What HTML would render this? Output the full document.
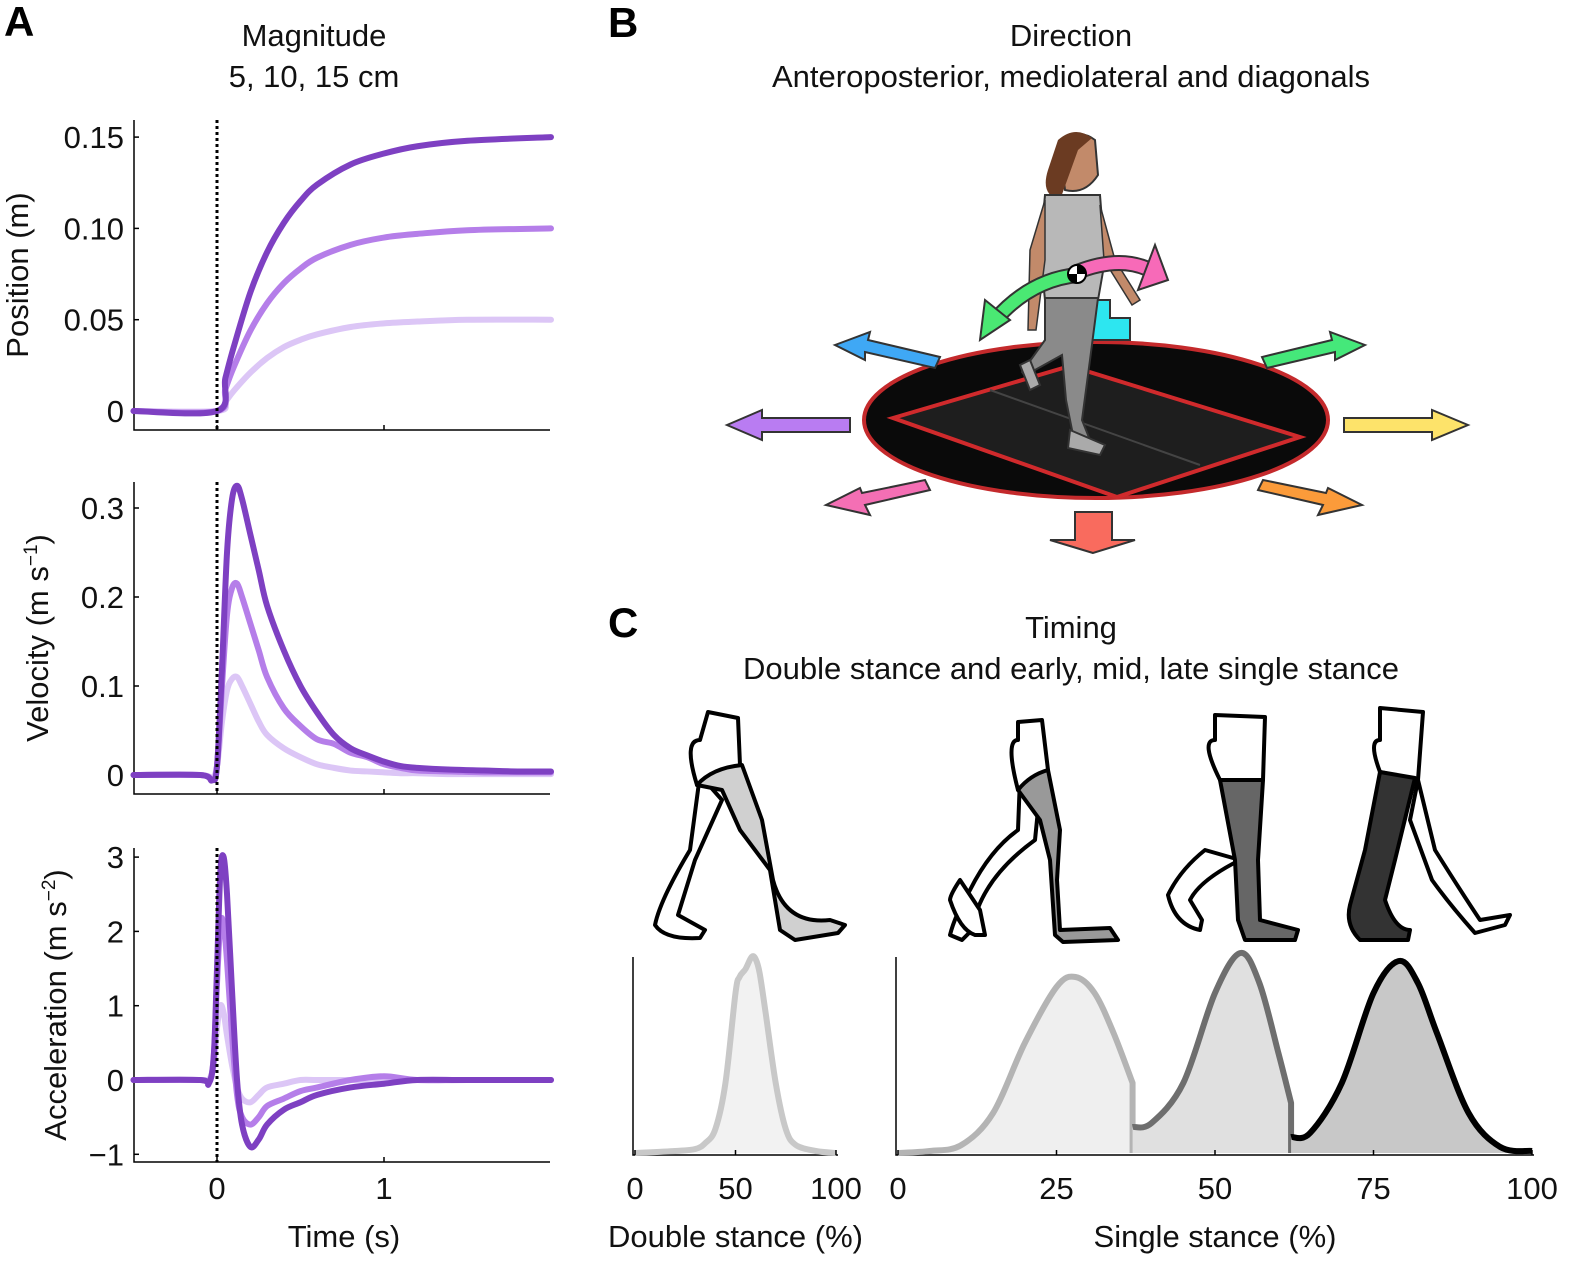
<!DOCTYPE html>
<html><head><meta charset="utf-8">
<style>
body{margin:0;background:#fff;}
svg{display:block;font-family:"Liberation Sans",Arial,sans-serif;}
.t{font-size:31px;fill:#111;}
</style></head>
<body>
<svg id="fig" width="1582" height="1268" viewBox="0 0 1582 1268">
<g font-weight="bold" font-size="42">
<text x="4" y="36">A</text>
<text x="608" y="37">B</text>
<text x="608" y="637">C</text>
</g>
<text class="t" x="314" y="46" text-anchor="middle">Magnitude</text>
<text class="t" x="314" y="87" text-anchor="middle">5, 10, 15 cm</text>
<text class="t" x="1071" y="46" text-anchor="middle">Direction</text>
<text class="t" x="1071" y="87" text-anchor="middle">Anteroposterior, mediolateral and diagonals</text>
<text class="t" x="1071" y="638" text-anchor="middle">Timing</text>
<text class="t" x="1071" y="679" text-anchor="middle">Double stance and early, mid, late single stance</text>

<!-- Panel B illustration -->
<g>
<ellipse cx="1096" cy="420" rx="232" ry="78" fill="#0a0a0a" stroke="#c42a2c" stroke-width="4"/>
<polygon points="893,418 1070,366 1300,437 1117,497" fill="#1e1e1e" stroke="#d02a2c" stroke-width="4"/>
<line x1="990" y1="390" x2="1200" y2="465" stroke="#444" stroke-width="2"/>
<polygon points="727,425 762,410 762,418 850,418 850,432 762,432 762,440" fill="#b97cf2" stroke="#333" stroke-width="2"/>
<polygon points="1468,425 1432,410 1432,418 1344,418 1344,432 1432,432 1432,440" fill="#fde36a" stroke="#333" stroke-width="2"/>
<polygon points="1093,553 1050,540 1075,540 1075,512 1112,512 1112,540 1135,540" fill="#f96b5e" stroke="#333" stroke-width="2"/>
<polygon points="835,345 870,332 868,340 940,357 935,368 865,352 865,360" fill="#3fa8f5" stroke="#333" stroke-width="2"/>
<polygon points="1365,345 1330,332 1332,340 1262,357 1267,368 1335,352 1335,360" fill="#45e87a" stroke="#333" stroke-width="2"/>
<polygon points="826,505 870,515 865,505 930,490 925,480 862,493 860,488" fill="#f46fb4" stroke="#333" stroke-width="2"/>
<polygon points="1362,505 1318,515 1323,505 1258,490 1263,480 1326,493 1328,488" fill="#fb9b3a" stroke="#333" stroke-width="2"/>
<polygon points="1090,300 1110,300 1110,318 1130,318 1130,340 1090,340" fill="#2de6f0" stroke="#333" stroke-width="2"/>
<g>
<path d="M1060,150 Q1075,125 1095,140 L1098,175 Q1085,195 1065,190 Z" fill="#c28a6a" stroke="#333" stroke-width="2"/>
<path d="M1058,140 Q1075,125 1092,138 L1078,150 L1060,200 Q1040,195 1048,170 Z" fill="#6b3b22"/>
<path d="M1045,195 L1100,195 L1105,260 L1098,300 L1045,300 L1040,250 Z" fill="#b8b8b8" stroke="#333" stroke-width="2"/>
<path d="M1045,200 L1030,250 L1028,330 L1036,330 L1045,260 Z" fill="#c28a6a" stroke="#333" stroke-width="1.5"/>
<path d="M1100,205 L1115,260 L1140,300 L1132,305 L1104,260 Z" fill="#c28a6a" stroke="#333" stroke-width="1.5"/>
<path d="M1045,298 L1098,298 L1090,360 L1082,420 L1090,440 L1075,445 L1066,400 L1062,355 L1035,370 L1028,380 L1022,372 L1045,340 Z" fill="#8a8a8a" stroke="#333" stroke-width="2"/>
<path d="M1070,430 L1105,445 L1100,455 L1068,448 Z" fill="#aaa" stroke="#333" stroke-width="2"/>
<path d="M1020,365 L1030,390 L1040,385 L1030,360 Z" fill="#aaa" stroke="#333" stroke-width="2"/>
</g>
<path d="M1077,275 Q1030,280 995,320" fill="none" stroke="#333" stroke-width="16"/>
<path d="M1077,275 Q1030,280 995,320" fill="none" stroke="#4ae873" stroke-width="12"/>
<polygon points="980,340 985,300 1010,320" fill="#4ae873" stroke="#333" stroke-width="2"/>
<path d="M1077,272 Q1120,255 1150,270" fill="none" stroke="#333" stroke-width="16"/>
<path d="M1077,272 Q1120,255 1150,270" fill="none" stroke="#f76ab8" stroke-width="12"/>
<polygon points="1168,280 1138,290 1155,245" fill="#f76ab8" stroke="#333" stroke-width="2"/>
<circle cx="1077" cy="274" r="9" fill="#fff" stroke="#000" stroke-width="2"/>
<path d="M1077,265 A9,9 0 0 1 1086,274 L1077,274Z M1077,283 A9,9 0 0 1 1068,274 L1077,274Z" fill="#000"/>
</g>

<!-- legs -->
<g stroke="#000" stroke-width="4" stroke-linejoin="round">
<g>
<path d="M700,775 L690,850 Q660,900 655,925 Q665,940 700,938 L705,930 L678,915 L695,860 L722,800 Z" fill="#fff"/>
<path d="M708,712 L738,718 L740,765 L697,785 Q683,740 700,740 Z" fill="#fff"/>
<path d="M697,785 Q712,768 742,765 L762,820 L773,880 Q785,925 830,920 L845,925 L838,933 L795,940 L780,930 L770,870 L740,830 L722,790 Z" fill="#d0d0d0"/>
</g>
<g>
<path d="M880,778 L878,830 Q850,850 830,890 Q815,915 810,935 L822,940 L832,930 Q840,880 895,840 L900,790 Z" transform="translate(140,0)" fill="#fff"/>
<path d="M1018,722 L1042,720 L1048,770 L1018,790 Q1005,740 1018,740 Z" fill="#fff"/>
<path d="M1018,790 Q1030,775 1048,770 L1060,830 L1057,880 L1060,930 L1110,928 L1118,940 L1063,942 L1055,935 L1050,860 L1040,820 Z" fill="#999"/>
<path d="M960,880 Q950,895 950,900 Q960,930 975,935 L985,935 L980,910 Z" fill="#fff"/>
</g>
<g>
<path d="M1215,715 L1265,717 L1263,780 L1220,780 Q1200,740 1215,740 Z" fill="#fff"/>
<path d="M1205,850 Q1180,870 1168,895 Q1175,925 1200,930 L1202,920 L1190,900 Q1200,880 1240,860 Z" fill="#fff"/>
<path d="M1220,780 L1263,780 L1258,860 L1260,920 L1298,930 L1295,940 L1245,940 L1238,920 L1235,860 Z" fill="#666"/>
</g>
<g>
<path d="M1380,708 L1423,712 L1418,780 L1380,772 Q1368,740 1380,740 Z" fill="#fff"/>
<path d="M1418,780 L1435,850 Q1460,890 1480,920 L1510,915 L1505,925 L1475,933 Q1450,905 1432,880 L1410,820 Z" fill="#fff"/>
<path d="M1380,772 L1415,778 L1395,860 L1385,900 Q1395,930 1410,930 L1408,940 L1360,940 Q1345,925 1350,905 L1365,850 Z" fill="#333"/>
</g>
</g>

<g id="charts"></g>
</svg>
<script>
// ---- Panel A data ----
const posTimes = [-0.5, 0, 0.05, 0.1, 0.2, 0.3, 0.4, 0.5, 0.6, 0.8, 1.0, 1.2, 1.5, 2.0];
const pos15 = [0, 0, 0.018, 0.035, 0.065, 0.087, 0.103, 0.115, 0.124, 0.135, 0.141, 0.145, 0.148, 0.150];
const pos10 = [0, 0, 0.012, 0.024, 0.044, 0.059, 0.070, 0.078, 0.084, 0.091, 0.095, 0.097, 0.099, 0.100];
const pos5 = [0, 0, 0.005, 0.011, 0.021, 0.029, 0.035, 0.039, 0.042, 0.046, 0.048, 0.049, 0.050, 0.050];
const posTicks = [0, 0.05, 0.10, 0.15];
const posTickLabels = ["0", "0.05", "0.10", "0.15"];

const velTimes = [-0.5, -0.1, -0.03, 0, 0.03, 0.06, 0.09, 0.12, 0.15, 0.2, 0.25, 0.3, 0.4, 0.5, 0.6, 0.7, 0.8, 0.9, 1.0, 1.1, 1.2, 1.4, 1.6, 1.8, 2.0];
const vel15 = [0, 0, -0.006, 0.01, 0.12, 0.25, 0.31, 0.325, 0.31, 0.27, 0.23, 0.19, 0.14, 0.10, 0.07, 0.045, 0.03, 0.022, 0.015, 0.01, 0.008, 0.006, 0.005, 0.004, 0.004];
const vel10 = [0, 0, -0.005, 0.01, 0.10, 0.18, 0.21, 0.215, 0.20, 0.17, 0.14, 0.11, 0.075, 0.055, 0.04, 0.035, 0.025, 0.02, 0.012, 0.008, 0.005, 0.004, 0.003, 0.003, 0.003];
const vel5 = [0, 0, -0.003, 0.01, 0.06, 0.095, 0.108, 0.11, 0.10, 0.08, 0.06, 0.045, 0.03, 0.02, 0.012, 0.008, 0.005, 0.004, 0.003, 0.002, 0.002, 0.001, 0.001, 0.001, 0.001];
const velTicks = [0, 0.1, 0.2, 0.3];
const velTickLabels = ["0", "0.1", "0.2", "0.3"];

const accTimes = [-0.5, -0.1, -0.05, -0.02, 0, 0.02, 0.04, 0.06, 0.09, 0.12, 0.15, 0.2, 0.25, 0.3, 0.4, 0.5, 0.6, 0.8, 1.0, 1.2, 1.5, 2.0];
const acc15 = [0, 0, -0.05, 0.3, 1.5, 2.8, 3.0, 2.5, 1.2, 0, -0.6, -0.9, -0.8, -0.6, -0.4, -0.3, -0.2, -0.1, -0.05, 0, 0, 0];
const acc10 = [0, 0, -0.05, 0.3, 1.3, 2.1, 2.1, 1.6, 0.6, -0.2, -0.5, -0.6, -0.5, -0.35, -0.25, -0.15, -0.1, 0, 0.05, 0, 0, 0];
const acc5 = [0, 0, 0, 0.2, 0.7, 1.0, 0.9, 0.6, 0.2, -0.1, -0.25, -0.3, -0.2, -0.1, -0.05, 0, 0, 0, 0, 0, 0, 0];
const accTicks = [-1, 0, 1, 2, 3];
const accTickLabels = ["\u22121", "0", "1", "2", "3"];

const timeTicks = [0, 1];
const timeTickLabels = ["0", "1"];

// ---- Panel C data ----
const dsPct = [0, 20, 30, 35, 40, 45, 50, 52, 55, 58, 60, 62, 65, 70, 75, 80, 90, 100];
const dsDens = [0, 0.01, 0.02, 0.05, 0.12, 0.35, 0.8, 0.88, 0.92, 0.98, 0.97, 0.9, 0.7, 0.35, 0.12, 0.04, 0.01, 0];
const ssEarlyPct = [0, 5, 10, 15, 20, 25, 28, 31, 34, 37];
const ssEarlyDens = [0, 0.01, 0.04, 0.2, 0.55, 0.83, 0.88, 0.8, 0.6, 0.35];
const ssMidPct = [37, 40, 45, 50, 54, 57, 60, 62];
const ssMidDens = [0.13, 0.15, 0.35, 0.8, 1.0, 0.85, 0.5, 0.25];
const ssLatePct = [62, 65, 70, 75, 79, 82, 85, 90, 95, 100];
const ssLateDens = [0.08, 0.1, 0.35, 0.8, 0.96, 0.85, 0.6, 0.2, 0.03, 0.01];
const pctTicksDS = [0, 50, 100];
const pctTicksSS = [0, 25, 50, 75, 100];

const NS = "http://www.w3.org/2000/svg";
const root = document.getElementById("charts");
function mk(tag, attrs, parent) {
  const e = document.createElementNS(NS, tag);
  for (const k in attrs) e.setAttribute(k, attrs[k]);
  (parent || root).appendChild(e);
  return e;
}
const xT = t => 217 + t * 167;

function smoothPath(pts) {
  let d = "M" + pts[0][0] + "," + pts[0][1];
  for (let i = 0; i < pts.length - 1; i++) {
    const p0 = pts[Math.max(0, i - 1)], p1 = pts[i], p2 = pts[i + 1], p3 = pts[Math.min(pts.length - 1, i + 2)];
    const c1x = p1[0] + (p2[0] - p0[0]) / 6, c1y = p1[1] + (p2[1] - p0[1]) / 6;
    const c2x = p2[0] - (p3[0] - p1[0]) / 6, c2y = p2[1] - (p3[1] - p1[1]) / 6;
    d += " C" + c1x + "," + c1y + " " + c2x + "," + c2y + " " + p2[0] + "," + p2[1];
  }
  return d;
}

function panelA(name, top, bottom, y0px, unitPx, ticks, labels, times, series, ylabel, ylabX) {
  const g = mk("g", {});
  
  
  const yS = v => y0px - v * unitPx;
  const ax = mk("path", {d: `M134,${top} L134,${bottom} L550,${bottom}`, fill: "none", stroke: "#000", "stroke-width": 1.5}, g);
  
  
  ticks.forEach((v, i) => {
    mk("line", {x1: 134, x2: 139, y1: yS(v), y2: yS(v), stroke: "#000", "stroke-width": 1.5}, g);
    const tl = mk("text", {x: 124, y: yS(v) + 11, "text-anchor": "end", class: "t"}, g);
    tl.textContent = labels[i];
    
    
  });
  timeTicks.forEach(t => mk("line", {x1: xT(t), x2: xT(t), y1: bottom, y2: bottom - 5, stroke: "#000", "stroke-width": 1.5}, g));
  const cols = ["#dcc6f6", "#b57ee9", "#7e40c2"];
  series.forEach((s, si) => {
    const pts = times.map((t, i) => [xT(t), yS(s[i])]);
    const p = mk("path", {d: smoothPath(pts), fill: "none", stroke: cols[si], "stroke-width": 6, "stroke-linecap": "round", "stroke-linejoin": "round"}, g);
    
    
  });
  const dl = mk("line", {x1: 217, x2: 217, y1: top, y2: bottom, stroke: "#000", "stroke-width": 3, "stroke-dasharray": "3,3"}, g);
  
  
  const yl = mk("text", {class: "t", "text-anchor": "middle", transform: `translate(${ylabX},${(top + bottom) / 2}) rotate(-90)`}, g);
  yl.innerHTML = ylabel;
  
  
}
panelA("position-plot", 120, 430, 411, 1826, posTicks, posTickLabels, posTimes, [pos5, pos10, pos15], "Position (m)", 28);
panelA("velocity-plot", 482, 794, 775, 890, velTicks, velTickLabels, velTimes, [vel5, vel10, vel15], 'Velocity (m s<tspan font-size="19" dy="-11">\u22121</tspan><tspan dy="11">)</tspan>', 48);
panelA("acceleration-plot", 848, 1162, 1080, 74.3, accTicks, accTickLabels, accTimes, [acc5, acc10, acc15], 'Acceleration (m s<tspan font-size="19" dy="-11">\u22122</tspan><tspan dy="11">)</tspan>', 66);
timeTicks.forEach((t, i) => {
  const tl = mk("text", {x: xT(t), y: 1199, "text-anchor": "middle", class: "t"});
  tl.textContent = timeTickLabels[i];
  
  
});
const xtA = mk("text", {x: 344, y: 1247, "text-anchor": "middle", class: "t"});
xtA.textContent = "Time (s)";



const baseY = 1153, hScale = 200;
function densChart(name, x0, x1, ticks, segs, title) {
  const g = mk("g", {});
  
  
  const xP = p => x0 + (x1 - x0) * p / 100;
  const ax = mk("path", {d: `M${x0 - 2},957 L${x0 - 2},${baseY + 2} L${x1 + 2},${baseY + 2}`, fill: "none", stroke: "#000", "stroke-width": 1.5}, g);
  
  
  segs.forEach((s, si) => {
    const pts = s.p.map((p, i) => [xP(p), baseY - s.d[i] * hScale]);
    const line = smoothPath(pts);
    const area = mk("path", {d: line + ` L${pts[pts.length - 1][0]},${baseY} L${pts[0][0]},${baseY} Z`, fill: s.fill, stroke: "none"}, g);
    
    
    let d = line;
    if (s.drop) d += ` L${pts[pts.length - 1][0]},${baseY}`;
    const l = mk("path", {d: d, fill: "none", stroke: s.stroke, "stroke-width": 6, "stroke-linejoin": "round"}, g);
    
    
  });
  ticks.forEach(t => {
    mk("line", {x1: xP(t), x2: xP(t), y1: baseY + 2, y2: baseY - 3, stroke: "#000", "stroke-width": 1.5}, g);
    const tl = mk("text", {x: xP(t), y: 1199, "text-anchor": "middle", class: "t"}, g);
    tl.textContent = String(t);
    
    
  });
  const xt = mk("text", {x: (x0 + x1) / 2, y: 1247, "text-anchor": "middle", class: "t"}, g);
  xt.textContent = title;
  
  
}
densChart("double-stance-plot", 635, 836, pctTicksDS, [{p: dsPct, d: dsDens, fill: "#f2f2f2", stroke: "#c8c8c8"}], "Double stance (%)");
densChart("single-stance-plot", 898, 1532, pctTicksSS, [
  {p: ssEarlyPct, d: ssEarlyDens, fill: "#efefef", stroke: "#b4b4b4", drop: true},
  {p: ssMidPct, d: ssMidDens, fill: "#e0e0e0", stroke: "#6e6e6e", drop: true},
  {p: ssLatePct, d: ssLateDens, fill: "#c8c8c8", stroke: "#000"}], "Single stance (%)");
</script>
</body></html>
